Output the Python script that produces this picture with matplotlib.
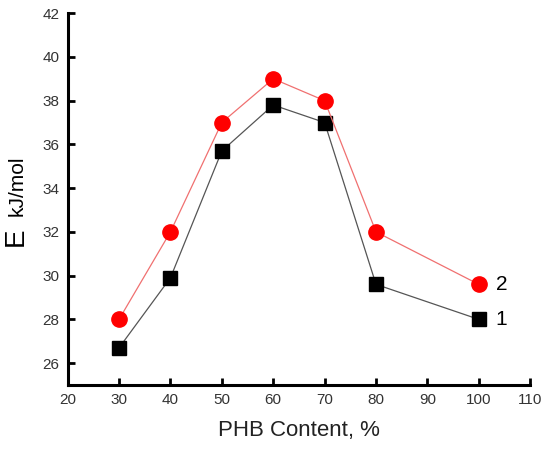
import matplotlib
matplotlib.use("Agg")
import matplotlib.pyplot as plt

plt.rcParams["font.family"] = ["Liberation Sans", "DejaVu Sans"]

phb = [30, 40, 50, 60, 70, 80, 100]
e_curve1 = [26.7, 29.9, 35.7, 37.8, 37.0, 29.6, 28.0]
e_curve2 = [28.0, 32.0, 37.0, 39.0, 38.0, 32.0, 29.6]
x_ticks = [20, 30, 40, 50, 60, 70, 80, 90, 100, 110]
y_ticks = [26, 28, 30, 32, 34, 36, 38, 40, 42]

fig = plt.figure(figsize=(5.5, 4.54), dpi=100)
ax = fig.add_axes([0.123, 0.152, 0.841, 0.819])

ax.plot(phb, e_curve1, color="#555555", linewidth=0.9, marker="s",
        markersize=10, markerfacecolor="black", markeredgecolor="black")
ax.plot(phb, e_curve2, color="#f07070", linewidth=0.9, marker="o",
        markersize=11, markerfacecolor="#ff0000", markeredgecolor="#ff0000")

ax.text(phb[-1] + 3.3, e_curve2[-1], "2", fontsize=15, va="center", ha="left")
ax.text(phb[-1] + 3.3, e_curve1[-1], "1", fontsize=15, va="center", ha="left")

ax.set_xlim(20, 110)
ax.set_ylim(25, 42)
ax.set_xticks(x_ticks)
ax.set_yticks(y_ticks)
ax.spines["top"].set_visible(False)
ax.spines["right"].set_visible(False)
for s in ("left", "bottom"):
    ax.spines[s].set_linewidth(2.2)
ax.tick_params(direction="in", length=5, width=2, labelsize=11,
               labelcolor="#333333", pad=6)

ax.set_xlabel("PHB Content, %", fontsize=16, labelpad=9, color="#222222")
fig.text(0.028, 0.478, "E", fontsize=20, rotation=90, va="center", ha="center")
fig.text(0.032, 0.59, "kJ/mol", fontsize=15, rotation=90, va="center", ha="center")

fig.savefig("out.png", dpi=100)
